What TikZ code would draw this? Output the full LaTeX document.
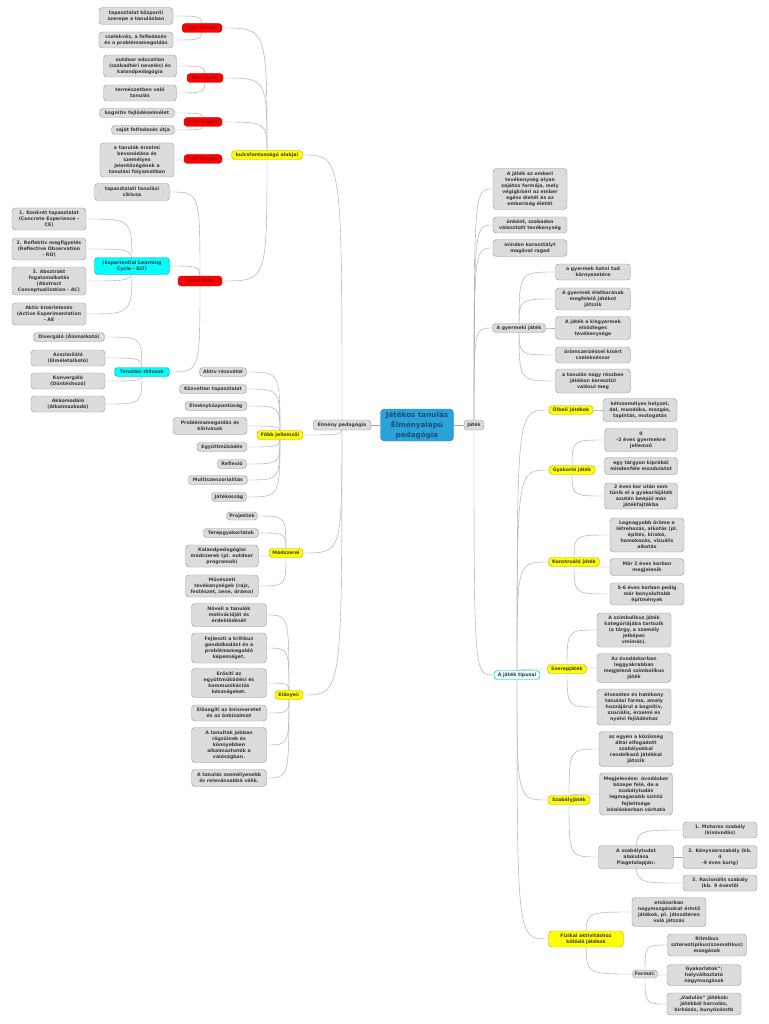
\documentclass[tikz,border=0pt]{standalone}
\usepackage{fontspec}
\setmainfont{DejaVu Sans}
\pgfdeclarelayer{bg}
\pgfsetlayers{bg,main}
\definecolor{lfill}{HTML}{DCDCDC}
\definecolor{lborder}{HTML}{9A9A9A}
\definecolor{ltext}{HTML}{3A3A3A}
\definecolor{conncol}{HTML}{A4A4A4}
\definecolor{rootfill}{HTML}{2AA3DC}
\definecolor{rootborder}{HTML}{1F86B8}
\definecolor{roottext}{HTML}{1E4E6E}
\definecolor{yfill}{HTML}{FFFF00}
\definecolor{yborder}{HTML}{C0A800}
\definecolor{rfill}{HTML}{FF0000}
\definecolor{rborder}{HTML}{C00000}
\definecolor{rtext}{HTML}{A00000}
\definecolor{cfill}{HTML}{00FFFF}
\definecolor{cborder}{HTML}{00A8C8}
\definecolor{pfill}{HTML}{E4FFFF}
\tikzset{
 base/.style={rounded corners=3.5pt, line width=0.45pt, align=center, inner sep=0.8pt,
   font=\bfseries\fontsize{4.7}{6.1}\selectfont, text=ltext},
 leaf/.style={base, draw=lborder, fill=lfill},
 yel/.style={base, draw=yborder, fill=yfill},
 redn/.style={base, draw=rborder, fill=rfill, text=rtext},
 cyn/.style={base, draw=cborder, fill=cfill},
 pale/.style={base, draw=cborder, fill=pfill},
 rootn/.style={base, draw=rootborder, fill=rootfill, text=roottext, rounded corners=4pt,
   font=\bfseries\fontsize{7.2}{10}\selectfont},
 wh/.style 2 args={minimum width=#1pt, minimum height=#2pt},
 conn/.style={draw=conncol, line width=0.4pt},
}
\newcommand\lkL[2]{\draw[conn] (#1.east) .. controls (#2.center |- #1.east) .. (#2.center);}
\newcommand\lkR[2]{\draw[conn] (#1.west) .. controls (#2.center |- #1.west) .. (#2.center);}
\begin{document}
\begin{tikzpicture}[x=1pt,y=-1pt]
\begin{pgfonlayer}{bg}
\fill[white] (0,0) rectangle (768,1024);
\end{pgfonlayer}
\useasboundingbox (0,0) rectangle (768,1024);

% centre
\node[rootn, wh={73}{32}] (root) at (417,425) {Játékos tanulás\\Élményalapú\\pedagógia};
\node[leaf, wh={58}{10}] (ep) at (342,425) {Élmény pedagógia};
\node[leaf, wh={20}{10}] (jt) at (474,425) {Játék};

% key figures
\node[yel, wh={71}{9}] (kulcs) at (267,155) {kulcsfontosságú alakjai};
\node[redn, wh={40}{9}] (dew) at (202,28) {John Dewey};
\node[redn, wh={36}{9}] (hah) at (205,78) {Kurt Hahn};
\node[redn, wh={38}{9}] (pia) at (203,122) {Jean Piaget};
\node[redn, wh={38}{9}] (rog) at (203,159) {Carl Rogers};
\node[redn, wh={44}{10}] (kol) at (200,281) {David Kolb};

\node[leaf, wh={74}{17}] (d1) at (136,16) {tapasztalat központi\\szerepe a tanulásban};
\node[leaf, wh={74}{16}] (d2) at (136,40) {cselekvés, a felfedezés\\és a problémamegoldás};
\node[leaf, wh={73}{22}] (h1) at (140,66) {outdoor education\\(szabadtéri nevelés) és\\kalandpedagógia};
\node[leaf, wh={73}{16}] (h2) at (140,93) {természetben való\\tanulás};
\node[leaf, wh={75}{9}] (p1) at (137,113) {kognitív fejlődéselmélet};
\node[leaf, wh={63}{9}] (p2) at (143,130) {saját felfedezés útja};
\node[leaf, wh={74}{34}] (r1) at (137,160) {a tanulók érzelmi\\bevonódása és\\személyes\\jelentőségének a\\tanulási folyamatban};

\node[leaf, wh={75}{17}] (k1) at (132,192) {tapasztalati tanulási\\ciklusa};
\node[cyn, wh={75}{17}] (elt) at (132,266) {(Experiential Learning\\Cycle - ELT)};
\node[cyn, wh={55}{9}] (stil) at (142,372) {Tanulási stílusok};

\node[leaf, wh={74}{22}] (e1) at (49,219) {1. Konkrét tapasztalat\\(Concrete Experience -\\CE)};
\node[leaf, wh={74}{22}] (e2) at (49,249) {2. Reflektív megfigyelés\\(Reflective Observation\\- RO)};
\node[leaf, wh={74}{28}] (e3) at (49,281) {3. Absztrakt\\fogalomalkotás\\(Abstract\\Conceptualization - AC)};
\node[leaf, wh={74}{22}] (e4) at (49,314) {Aktív kísérletezés\\(Active Experimentation\\- AE};

\node[leaf, wh={71}{9}] (s1) at (69,337) {Divergáló (Álomalkotó)};
\node[leaf, wh={74}{16}] (s2) at (68,358) {Asszimiláló\\(Elméletalkotó)};
\node[leaf, wh={74}{16}] (s3) at (68,381) {Konvergáló\\(Döntéshozó)};
\node[leaf, wh={74}{16}] (s4) at (68,404) {Akkomodáló\\(Alkalmazkodó)};

% main features
\node[yel, wh={46}{9}] (fob) at (280,435) {Főbb jellemzői};
\node[leaf, wh={47}{9}] (f1) at (223,372) {Aktív részvétel};
\node[leaf, wh={67}{9}] (f2) at (213,389) {Közvetlen tapasztalat};
\node[leaf, wh={62}{9}] (f3) at (216,406) {Élményközpontúság};
\node[leaf, wh={74}{17}] (f4) at (210,426) {Problémamegoldás és\\kihívások};
\node[leaf, wh={50}{9}] (f5) at (222,447) {Együttműködés};
\node[leaf, wh={29}{9}] (f6) at (232,464) {Reflexió};
\node[leaf, wh={59}{9}] (f7) at (218,480) {Multiszenzorialitás};
\node[leaf, wh={35}{9}] (f8) at (229,497) {Játékosság};

% methods
\node[yel, wh={34}{9}] (mod) at (286,553) {Módszerei};
\node[leaf, wh={31}{8}] (m1) at (242,516) {Projektek};
\node[leaf, wh={55}{9}] (m2) at (231,533) {Terepgyakorlatok};
\node[leaf, wh={73}{22}] (m3) at (222,556) {Kalandpedagógiai\\módszerek (pl. outdoor\\programok)};
\node[leaf, wh={73}{22}] (m4) at (222,586) {Művészeti\\tevékenységek (rajz,\\festészet, zene, dráma)};

% advantages
\node[yel, wh={28}{9}] (elo) at (289,695) {Előnyei:};
\node[leaf, wh={75}{23}] (a1) at (229,615) {Növeli a tanulók\\motivációját és\\érdeklődését};
\node[leaf, wh={75}{30}] (a2) at (229,648) {Fejleszti a kritikus\\gondolkodást és a\\problémamegoldó\\képességet.};
\node[leaf, wh={75}{29}] (a3) at (229,683) {Erősíti az\\együttműködési és\\kommunikációs\\készségeket.};
\node[leaf, wh={75}{16}] (a4) at (229,713) {Elősegíti az önismeretet\\és az önbizalmat};
\node[leaf, wh={75}{35}] (a5) at (229,745) {A tanultak jobban\\rögzülnek és\\könnyebben\\alkalmazhatók a\\valóságban.};
\node[leaf, wh={75}{17}] (a6) at (229,778) {A tanulás személyesebb\\és relevánsabbá válik.};

% right side: Játék
\node[leaf, wh={74}{41}] (j1) at (530,189) {A játék az emberi\\tevékenység olyan\\sajátos formája, mely\\végigkíséri az ember\\egész életét és az\\emberiség életét};
\node[leaf, wh={74}{16}] (j2) at (530,225) {önként, szabadon\\választott tevékenység};
\node[leaf, wh={74}{17}] (j3) at (530,248) {minden korosztályt\\magával ragad};
\node[leaf, wh={53}{9}] (gy) at (519,328) {A gyermeki játék};
\node[leaf, wh={75}{16}] (g1) at (593,272) {a gyermek hatni tud\\környezetére};
\node[leaf, wh={75}{22}] (g2) at (593,299) {A gyermek életkorának\\megfelelő játékot\\játszik};
\node[leaf, wh={75}{23}] (g3) at (593,328) {A játék a kisgyermek\\elsődleges\\tevékenysége};
\node[leaf, wh={75}{16}] (g4) at (593,355) {örömszerzéssel kísért\\cselekvéssor};
\node[leaf, wh={75}{24}] (g5) at (593,381) {a tanulás nagy részben\\játékon keresztül\\valósul meg};

\node[pale, wh={46}{9}] (tip) at (517,675) {A játék típusai};

\node[yel, wh={44}{9}] (ol) at (571,410) {Ölbeli játékok};
\node[leaf, wh={74}{23}] (ol1) at (640,410) {kétszemélyes helyzet,\\dal, mondóka, mozgás,\\tapintás, mutogatás};

\node[yel, wh={46}{9}] (gyak) at (572,470) {Gyakorló játék};
\node[leaf, wh={73}{23}] (gk1) at (641,440) {0\\-2 éves gyermekre\\jellemző};
\node[leaf, wh={73}{17}] (gk2) at (641,466) {egy tárgyon kipróbál\\mindenféle mozdulatot};
\node[leaf, wh={73}{26}] (gk3) at (641,496) {2 éves kor után sem\\tűnik el a gyakorlójáték\\azután beépül más\\játékfajtákba};

\node[yel, wh={51}{9}] (kon) at (574,562) {Konstruáló játék};
\node[leaf, wh={74}{34}] (kn1) at (647,535) {Legnagyobb öröme a\\létrehozás, alkotás (pl.\\építés, kirakó,\\homokozás, vizuális\\alkotás};
\node[leaf, wh={74}{17}] (kn2) at (647,567) {Már 2 éves korban\\megjelenik};
\node[leaf, wh={74}{22}] (kn3) at (647,594) {5-6 éves korban pedig\\már bonyolultabb\\építmények};

\node[yel, wh={39}{9}] (sz) at (567,669) {Szerepjáték};
\node[leaf, wh={74}{34}] (sz1) at (634,630) {A szimbolikus játék\\kategóriájába tartozik\\(a tárgy, a személy\\jelképes\\vmimás).};
\node[leaf, wh={74}{29}] (sz2) at (634,668) {Az óvodáskorban\\leggyakrabban\\megjelenő szimbolikus\\játék};
\node[leaf, wh={74}{36}] (sz3) at (634,707) {élvezetes és hatékony\\tanulási forma, amely\\hozzájárul a kognitív,\\szociális, érzelmi és\\nyelvi fejlődéshez};

\node[yel, wh={42}{9}] (sb) at (569,800) {Szabályjáték};
\node[leaf, wh={74}{35}] (sb1) at (636,749) {az egyén a közösség\\által elfogadott\\szabályokkal\\rendelkező játékkal\\játszik};
\node[leaf, wh={73}{42}] (sb2) at (636,794) {Megjelenése: óvodáskor\\közepe felé, de a\\szabálytudás\\legmagasabb szintű\\fejlettsége\\iskoláskorban várható};
\node[leaf, wh={75}{23}] (sb3) at (636,857) {A szabálytudat\\alakulása\\Piagetalapján:};
\node[leaf, wh={74}{16}] (pt1) at (720,830) {1. Motoros szabály\\(kisóvodás)};
\node[leaf, wh={74}{23}] (pt2) at (720,857) {2. Kényszerszabály (kb.\\4\\-9 éves korig)};
\node[leaf, wh={74}{16}] (pt3) at (720,883) {3. Racionális szabály\\(kb. 9 évestől};

\node[yel, wh={75}{16}] (fiz) at (586,939) {Fizikai aktivitáshoz\\kötődő játékok};
\node[leaf, wh={74}{29}] (fz1) at (669,912) {elsősorban\\nagymozgásokat érintő\\játékok, pl. játszótéren\\való játszás};
\node[leaf, wh={25}{8}] (form) at (645,974) {Formái:};
\node[leaf, wh={79}{22}] (fo1) at (707,945) {Ritmikus\\sztereotipikus(szematikus)\\mozgások};
\node[leaf, wh={74}{21}] (fo2) at (704,975) {Gyakorlatok”:\\helyváltoztató\\nagymozgások};
\node[leaf, wh={74}{22}] (fo3) at (704,1004) {„Vadulós” játékok:\\játékból harcolás,\\birkózás, bunyózásstb};

\begin{pgfonlayer}{bg}
\draw[conn] (root.west) -- (ep.east);
\draw[conn] (root.east) -- (jt.west);
\lkL{kulcs}{ep} \lkL{fob}{ep} \lkL{mod}{ep} \lkL{elo}{ep}
\lkL{dew}{kulcs} \lkL{hah}{kulcs} \lkL{pia}{kulcs} \lkL{rog}{kulcs} \lkL{kol}{kulcs}
\lkL{d1}{dew} \lkL{d2}{dew} \lkL{h1}{hah} \lkL{h2}{hah}
\lkL{p1}{pia} \lkL{p2}{pia} \lkL{r1}{rog}
\lkL{k1}{kol} \lkL{elt}{kol} \lkL{stil}{kol}
\lkL{e1}{elt} \lkL{e2}{elt} \lkL{e3}{elt} \lkL{e4}{elt}
\lkL{s1}{stil} \lkL{s2}{stil} \lkL{s3}{stil} \lkL{s4}{stil}
\lkL{f1}{fob} \lkL{f2}{fob} \lkL{f3}{fob} \lkL{f4}{fob}
\lkL{f5}{fob} \lkL{f6}{fob} \lkL{f7}{fob} \lkL{f8}{fob}
\lkL{m1}{mod} \lkL{m2}{mod} \lkL{m3}{mod} \lkL{m4}{mod}
\lkL{a1}{elo} \lkL{a2}{elo} \lkL{a3}{elo} \lkL{a4}{elo} \lkL{a5}{elo} \lkL{a6}{elo}
\lkR{j1}{jt} \lkR{j2}{jt} \lkR{j3}{jt} \lkR{gy}{jt} \lkR{tip}{jt}
\lkR{g1}{gy} \lkR{g2}{gy} \lkR{g3}{gy} \lkR{g4}{gy} \lkR{g5}{gy}
\lkR{ol}{tip} \lkR{gyak}{tip} \lkR{kon}{tip} \lkR{sz}{tip} \lkR{sb}{tip} \lkR{fiz}{tip}
\lkR{ol1}{ol}
\lkR{gk1}{gyak} \lkR{gk2}{gyak} \lkR{gk3}{gyak}
\lkR{kn1}{kon} \lkR{kn2}{kon} \lkR{kn3}{kon}
\lkR{sz1}{sz} \lkR{sz2}{sz} \lkR{sz3}{sz}
\lkR{sb1}{sb} \lkR{sb2}{sb} \lkR{sb3}{sb}
\lkR{pt1}{sb3} \lkR{pt2}{sb3} \lkR{pt3}{sb3}
\lkR{fz1}{fiz} \lkR{form}{fiz}
\lkR{fo1}{form} \lkR{fo2}{form} \lkR{fo3}{form}
\end{pgfonlayer}
\end{tikzpicture}
\end{document}
